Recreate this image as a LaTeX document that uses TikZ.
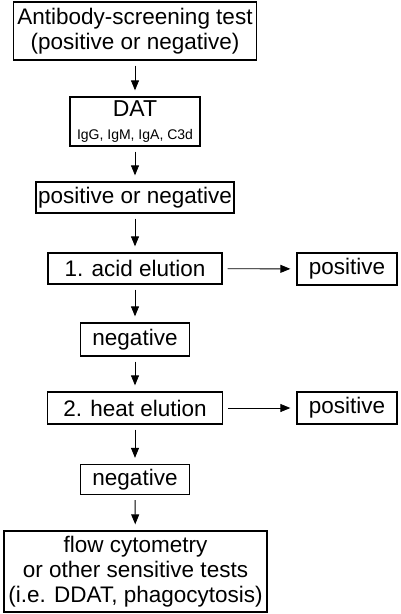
\documentclass[tikz,border=0pt]{standalone}
\usepackage{fontspec}
\setmainfont{Liberation Sans}
\usepackage{tikz}
\usetikzlibrary{arrows.meta}

\begin{document}
\begin{tikzpicture}[x=1pt,y=-1pt,
		box/.style={draw=black, line width=1.3pt, inner sep=0pt, align=center,
			font=\fontsize{22.5}{25}\selectfont},
		arr/.style={-{Triangle[length=10pt,width=8pt]}, line width=0.9pt,
			shorten <=5pt, shorten >=6pt}]
		\useasboundingbox (0,0) rectangle (400,614);
		\node[box, minimum width=243pt, minimum height=58pt] (screen) at (135,31) {Antibody-screening test\\(positive or negative)};
		\node[box, minimum width=130pt, minimum height=49pt] (dat) at (135,121.5) {{\fontsize{23}{23}\selectfont DAT}\\[-2pt]{\fontsize{14}{15}\selectfont IgG, IgM, IgA, C3d}};
		\node[box, minimum width=198pt, minimum height=31pt] (posneg) at (135,197.5) {positive or negative};
		\node[box, minimum width=174pt, minimum height=31pt] (acid) at (135,268.5) {1. acid elution};
		\node[box, minimum width=100pt, minimum height=32pt] (posA) at (347,269) {positive};
		\node[box, minimum width=109pt, minimum height=33pt] (negA) at (135,339.5) {negative};
		\node[box, minimum width=175pt, minimum height=32pt] (heat) at (135,408) {2. heat elution};
		\node[box, minimum width=100pt, minimum height=32pt] (posB) at (347,408) {positive};
		\node[box, minimum width=109pt, minimum height=30pt] (negB) at (135,479.5) {negative};
		\node[box, minimum width=263pt, minimum height=81pt] (flow) at (135.5,571.5) {flow cytometry\\or other sensitive tests\\(i.e. DDAT, phagocytosis)};
		\draw[arr] (screen) -- (dat);
		\draw[arr] (dat) -- (posneg);
		\draw[arr] (posneg) -- (acid);
		\draw[arr] (acid) -- (posA);
		\draw[arr] (acid) -- (negA);
		\draw[arr] (negA) -- (heat);
		\draw[arr] (heat) -- (posB);
		\draw[arr] (heat) -- (negB);
		\draw[arr] (negB) -- (flow);
	\end{tikzpicture}
\end{document}
